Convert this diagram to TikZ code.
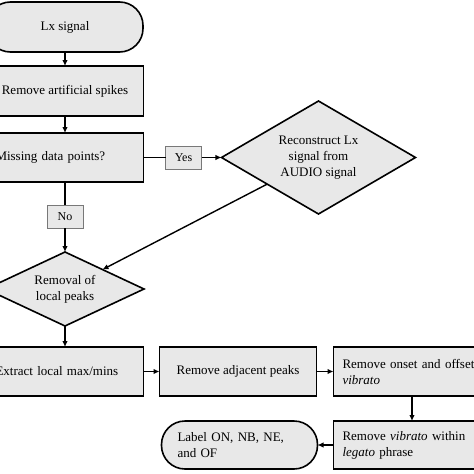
\documentclass[tikz,border=0pt]{standalone}
\usepackage{fontspec}
\setmainfont{Liberation Serif}
\usetikzlibrary{arrows.meta,positioning,shapes.geometric}
\definecolor{BoxGray}{RGB}{232,232,232}
\definecolor{TagBorder}{RGB}{120,120,120}
\tikzset{
  flowbox/.style={draw=black,line width=1.6pt,fill=BoxGray,outer sep=0pt,
    minimum width=157pt,minimum height=49pt,align=center,inner sep=2pt},
  leftbox/.style={flowbox,text width=139pt,inner xsep=9pt,align=left},
  terminator/.style={draw=black,line width=1.6pt,rounded corners=23.5pt,outer sep=0pt,
    fill=BoxGray,minimum width=156pt,minimum height=48pt,align=center},
  decision/.style={draw=black,line width=1.6pt,diamond,fill=BoxGray,outer sep=0pt,
    inner sep=1pt,align=center},
  tagbox/.style={draw=TagBorder,line width=0.9pt,fill=BoxGray,outer sep=0pt,
    minimum width=36pt,minimum height=23pt,font=\fontsize{12}{14}\selectfont},
  flowarrow/.style={-{Latex[length=6pt,width=5.5pt]},line width=1.4pt},
  flowline/.style={line width=1.4pt},
}
\begin{document}
\begin{tikzpicture}[x=1pt,y=1pt,font=\fontsize{13}{16}\selectfont]
  \useasboundingbox (0,0) rectangle (474,-474);
  \clip (0,0) rectangle (474,-474);
  \node[terminator,minimum height=50pt] (lx) at (65,-27) {Lx signal};
  \node[flowbox,minimum height=50pt,below=14pt of lx] (spikes) {Remove artificial spikes};
  \node[leftbox,below=17pt of spikes] (missing) {Missing data points?};
  \node[tagbox,right=22pt of missing] (yes) {Yes};
  \node[decision,aspect=1.72,minimum width=194pt,minimum height=113pt,right=20pt of yes] (recon)
    {Reconstruct Lx\\signal from\\AUDIO signal};
  \node[tagbox,below=23pt of missing] (no) {No};
  \node[decision,aspect=2.13,minimum width=158pt,minimum height=74pt,below=24pt of no] (removal)
    {Removal of\\local peaks};
  \node[leftbox,below=21pt of removal] (extract) {Extract local max/mins};
  \node[flowbox,right=16pt of extract] (adjacent) {Remove adjacent peaks};
  \node[leftbox,right=17pt of adjacent] (onset) {Remove onset and offset\\\textit{vibrato}};
  \node[leftbox,minimum height=48pt,below=25pt of onset] (within)
    {Remove \textit{vibrato} within\\\textit{legato} phrase};
  \node[terminator,text width=124pt,inner xsep=16pt,align=left,left=16pt of within] (label)
    {Label ON, NB, NE,\\and OF};
  \draw[flowarrow] (lx) -- (spikes);
  \draw[flowarrow] (spikes) -- (missing);
  \draw[flowline] (missing) -- (yes);
  \draw[flowarrow] (yes) -- (recon);
  \draw[flowline] (missing) -- (no);
  \draw[flowarrow] (no) -- (removal);
  \draw[flowarrow] (recon) -- (removal);
  \draw[flowarrow] (removal) -- (extract);
  \draw[flowarrow] (extract) -- (adjacent);
  \draw[flowarrow] (adjacent) -- (onset);
  \draw[flowarrow] (onset) -- (within);
  \draw[flowarrow] (within) -- (label);
\end{tikzpicture}
\end{document}
